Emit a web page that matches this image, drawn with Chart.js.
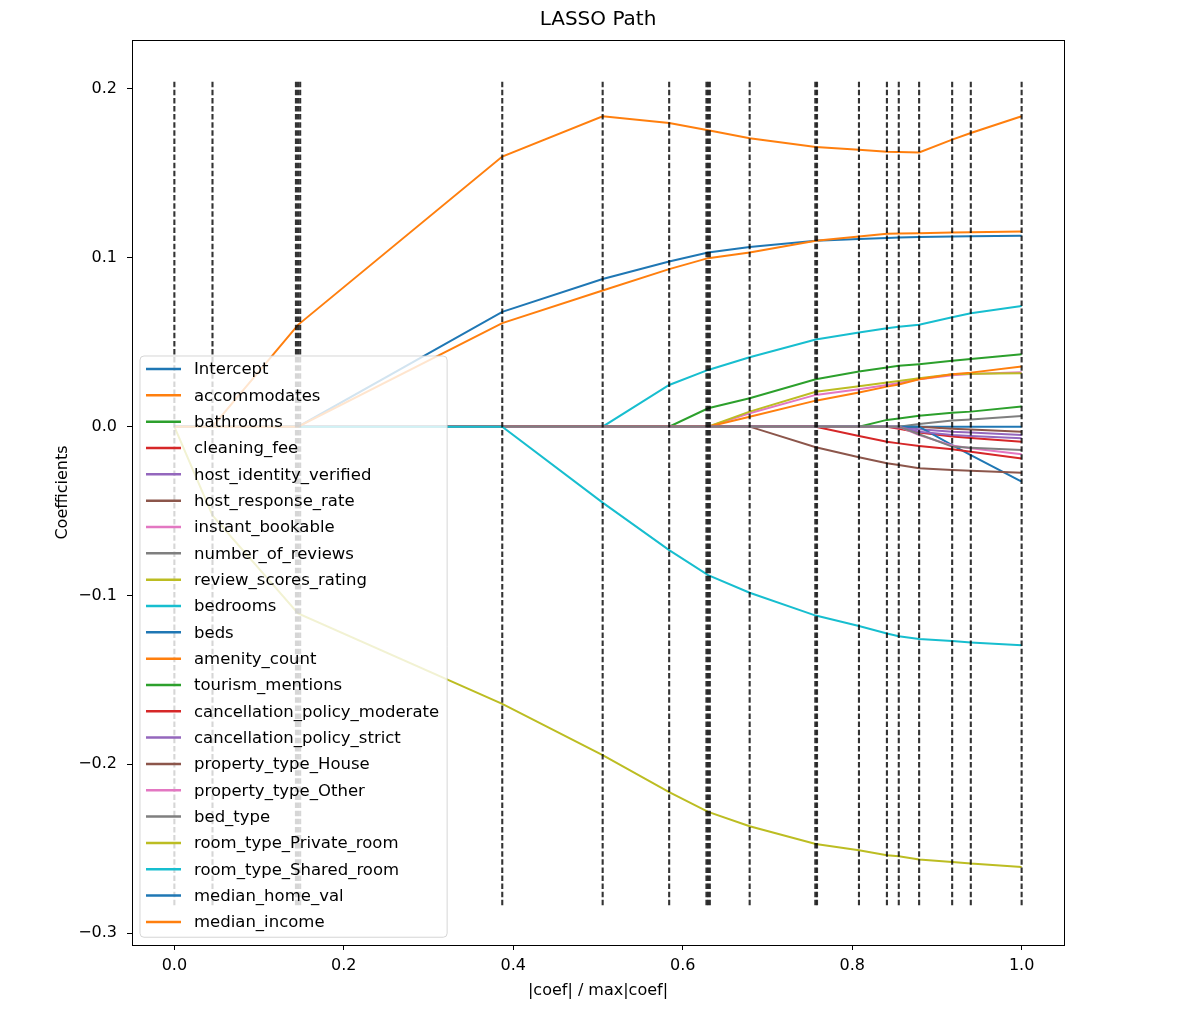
<!DOCTYPE html>
<html lang="en">
<head>
<meta charset="utf-8"/>
<title>LASSO Path</title>
<style>
  body { margin: 0; background: #fff; }
  canvas { display: block; }
</style>
</head>
<body>
<canvas id="lassoChart" width="1200" height="1018"></canvas>
<script src="https://cdn.jsdelivr.net/npm/chart.js"></script>
<script>
// x positions of the path knots (|coef| / max|coef|)
const knots = [0, 0.045, 0.146, 0.387, 0.5055, 0.584, 0.630, 0.679, 0.757, 0.808, 0.841, 0.855, 0.879, 0.918, 0.94, 1.0];
// dashed lines at every step, some of them almost on top of each other
const steps = [0, 0.045, 0.1435, 0.146, 0.1485, 0.387, 0.5055, 0.584, 0.628, 0.630, 0.632, 0.679, 0.7565, 0.7585, 0.808, 0.841, 0.855, 0.879, 0.918, 0.94, 1.0];
const stepRange = [-0.2835, 0.2055];

const featureNames = ['Intercept', 'accommodates', 'bathrooms', 'cleaning_fee', 'host_identity_verified',
  'host_response_rate', 'instant_bookable', 'number_of_reviews', 'review_scores_rating', 'bedrooms', 'beds',
  'amenity_count', 'tourism_mentions', 'cancellation_policy_moderate', 'cancellation_policy_strict',
  'property_type_House', 'property_type_Other', 'bed_type', 'room_type_Private_room', 'room_type_Shared_room',
  'median_home_val', 'median_income'];

const intercept            = [0, 0, 0, 0, 0, 0, 0, 0, 0, 0, 0, 0, 0, 0, 0, 0];
const accommodates         = [0, 0, 0.0603, 0.160, 0.1838, 0.1798, 0.1755, 0.1708, 0.1656, 0.1640, 0.1628, 0.1626, 0.1624, 0.1700, 0.1739, 0.1838];
const bathrooms            = [0, 0, 0, 0, 0, 0, 0.0109, 0.0168, 0.0281, 0.0326, 0.0350, 0.0360, 0.0370, 0.0390, 0.0400, 0.0429];
const cleaningFee          = [0, 0, 0, 0, 0, 0, 0, 0, 0, 0, 0, -0.0012, -0.0034, -0.0059, -0.0067, -0.0089];
const hostIdentity         = [0, 0, 0, 0, 0, 0, 0, 0, 0, 0, 0, -0.0005, -0.0016, -0.0030, -0.0035, -0.0049];
const hostResponse         = [0, 0, 0, 0, 0, 0, 0, 0, 0, 0, 0, 0, 0, -0.0012, -0.0017, -0.0030];
const instantBookable      = [0, 0, 0, 0, 0, 0, 0, 0.0079, 0.0188, 0.0222, 0.0247, 0.0258, 0.0281, 0.0305, 0.0312, 0.0322];
const numberOfReviews      = [0, 0, 0, 0, 0, 0, 0, 0, 0, 0, 0, 0, 0.0016, 0.0036, 0.0043, 0.0063];
const reviewScores         = [0, 0, 0, 0, 0, 0, 0, 0.0089, 0.0207, 0.0239, 0.0261, 0.0270, 0.0287, 0.0310, 0.0314, 0.0316];
const bedrooms             = [0, 0, 0, 0, 0, 0.0247, 0.0336, 0.0411, 0.0516, 0.0557, 0.0583, 0.0592, 0.0603, 0.0648, 0.0672, 0.0715];
const beds                 = [0, 0, 0, 0, 0, 0, 0, 0, 0, 0, 0, 0, 0, -0.0109, -0.0168, -0.0326];
const amenityCount         = [0, 0, 0, 0, 0, 0, 0, 0.0059, 0.0154, 0.0202, 0.0237, 0.0250, 0.0281, 0.0310, 0.0320, 0.0356];
const tourismMentions      = [0, 0, 0, 0, 0, 0, 0, 0, 0, 0, 0.0040, 0.0048, 0.0065, 0.0083, 0.0089, 0.0119];
const cancelModerate       = [0, 0, 0, 0, 0, 0, 0, 0, 0, -0.0055, -0.0089, -0.0099, -0.0114, -0.0134, -0.0148, -0.0188];
const cancelStrict         = [0, 0, 0, 0, 0, 0, 0, 0, 0, 0, 0, 0, -0.0030, -0.0049, -0.0056, -0.0069];
const propertyHouse        = [0, 0, 0, 0, 0, 0, 0, 0, -0.0122, -0.0181, -0.0217, -0.0227, -0.0247, -0.0257, -0.0261, -0.0273];
const propertyOther        = [0, 0, 0, 0, 0, 0, 0, 0, 0, 0, 0, 0, -0.0050, -0.0112, -0.0128, -0.0164];
const bedType              = [0, 0, 0, 0, 0, 0, 0, 0, 0, 0, 0, 0, -0.0045, -0.0118, -0.0125, -0.0138];
const privateRoom          = [0, -0.0526, -0.1106, -0.1642, -0.1946, -0.2164, -0.2282, -0.2367, -0.2472, -0.2509, -0.2539, -0.2545, -0.2563, -0.2578, -0.2588, -0.2608];
const sharedRoom           = [0, 0, 0, 0, -0.0450, -0.0731, -0.0879, -0.0984, -0.1119, -0.1181, -0.1225, -0.1241, -0.1258, -0.1270, -0.1278, -0.1294];
const medianHomeVal        = [0, 0, 0, 0.0680, 0.0874, 0.0978, 0.1031, 0.1064, 0.1101, 0.1111, 0.1117, 0.1120, 0.1123, 0.1126, 0.1128, 0.1130];
const medianIncome         = [0, 0, 0, 0.0613, 0.0806, 0.0933, 0.0998, 0.1032, 0.1101, 0.1126, 0.1142, 0.1144, 0.1146, 0.1150, 0.1152, 0.1156];

const coefs = [intercept, accommodates, bathrooms, cleaningFee, hostIdentity, hostResponse, instantBookable,
  numberOfReviews, reviewScores, bedrooms, beds, amenityCount, tourismMentions, cancelModerate, cancelStrict,
  propertyHouse, propertyOther, bedType, privateRoom, sharedRoom, medianHomeVal, medianIncome];

const tab10 = ['#1f77b4', '#ff7f0e', '#2ca02c', '#d62728', '#9467bd', '#8c564b', '#e377c2', '#7f7f7f', '#bcbd22', '#17becf'];
const FONT = '"DejaVu Sans", sans-serif';

function fmt(v) {
  const r = Math.round(v * 10) / 10;
  return r.toFixed(1).replace('-', '\u2212');
}

const datasets = [];
coefs.forEach((vals, i) => {
  datasets.push({
    label: featureNames[i],
    data: vals.map((v, k) => ({x: knots[k], y: v})),
    borderColor: tab10[i % 10],
    borderWidth: 2,
    pointRadius: 0,
    tension: 0,
    order: 100 - i   // later features drawn on top, like matplotlib
  });
});
steps.forEach(s => {
  datasets.push({
    label: '_step',
    data: [{x: s, y: stepRange[0]}, {x: s, y: stepRange[1]}],
    borderColor: 'rgba(0,0,0,0.8)',
    borderWidth: 2.1,
    borderDash: [5.5, 2.6],
    pointRadius: 0,
    order: 0
  });
});

// legend box drawn inside the plot, lower left, semi transparent
const pathLegend = {
  id: 'pathLegend',
  afterDatasetsDraw(chart) {
    const ctx = chart.ctx;
    const x0 = 140, y0 = 356, rowH = 26.33;
    ctx.save();
    ctx.font = '16.5px ' + FONT;
    let maxW = 0;
    featureNames.forEach(n => { maxW = Math.max(maxW, ctx.measureText(n).width); });
    const w = 54 + maxW + 8;
    const h = rowH * featureNames.length + 2;
    const r = 4;
    ctx.beginPath();
    ctx.moveTo(x0 + r, y0);
    ctx.lineTo(x0 + w - r, y0);
    ctx.arcTo(x0 + w, y0, x0 + w, y0 + r, r);
    ctx.lineTo(x0 + w, y0 + h - r);
    ctx.arcTo(x0 + w, y0 + h, x0 + w - r, y0 + h, r);
    ctx.lineTo(x0 + r, y0 + h);
    ctx.arcTo(x0, y0 + h, x0, y0 + h - r, r);
    ctx.lineTo(x0, y0 + r);
    ctx.arcTo(x0, y0, x0 + r, y0, r);
    ctx.closePath();
    ctx.fillStyle = 'rgba(255,255,255,0.8)';
    ctx.fill();
    ctx.strokeStyle = 'rgba(204,204,204,0.8)';
    ctx.lineWidth = 1;
    ctx.stroke();
    ctx.textBaseline = 'middle';
    ctx.textAlign = 'left';
    featureNames.forEach((n, i) => {
      const y = y0 + 13 + i * rowH;
      ctx.strokeStyle = tab10[i % 10];
      ctx.lineWidth = 2.5;
      ctx.beginPath();
      ctx.moveTo(146, y);
      ctx.lineTo(181, y);
      ctx.stroke();
      ctx.fillStyle = '#000';
      ctx.fillText(n, 194, y + 1);
    });
    ctx.restore();
  },
  afterDraw(chart) {
    const a = chart.chartArea;
    const ctx = chart.ctx;
    ctx.save();
    ctx.strokeStyle = '#000';
    ctx.lineWidth = 1;
    ctx.strokeRect(Math.round(a.left) + 0.5, Math.round(a.top) + 0.5, Math.round(a.right - a.left), Math.round(a.bottom - a.top));
    ctx.restore();
  }
};

const ctx = document.getElementById('lassoChart').getContext('2d');
new Chart(ctx, {
  type: 'line',
  data: { datasets: datasets },
  plugins: [pathLegend],
  options: {
    responsive: false,
    animation: false,
    layout: { padding: { left: 0, right: 136, top: 0, bottom: 0 } },
    plugins: {
      legend: { display: false },
      tooltip: { enabled: false },
      title: {
        display: true,
        text: 'LASSO Path',
        fullSize: false,
        color: '#000',
        font: { family: FONT, size: 20, weight: 'normal' },
        padding: { top: 8, bottom: 8 }
      }
    },
    scales: {
      x: {
        type: 'linear',
        min: -0.05,
        max: 1.05,
        afterFit(scale) { scale.height = 73; },
        grid: { drawOnChartArea: false, drawTicks: true, tickLength: 5, color: '#000' },
        border: { display: true, color: '#000' },
        ticks: {
          stepSize: 0.2,
          includeBounds: false,
          padding: 6,
          color: '#000',
          font: { family: FONT, size: 16 },
          maxRotation: 0,
          callback: v => fmt(v)
        },
        title: {
          display: true,
          text: '|coef| / max|coef|',
          color: '#000',
          font: { family: FONT, size: 16 },
          padding: { top: 0, bottom: 18 }
        }
      },
      y: {
        type: 'linear',
        min: -0.307,
        max: 0.229,
        afterFit(scale) { scale.width = 132; },
        grid: { drawOnChartArea: false, drawTicks: true, tickLength: 5, color: '#000' },
        border: { display: true, color: '#000' },
        ticks: {
          stepSize: 0.1,
          includeBounds: false,
          padding: 10,
          color: '#000',
          font: { family: FONT, size: 16 },
          callback: v => fmt(v)
        },
        title: {
          display: true,
          text: 'Coefficients',
          color: '#000',
          font: { family: FONT, size: 16 },
          padding: { top: 53, bottom: 0 }
        }
      }
    }
  }
});
</script>
</body>
</html>
